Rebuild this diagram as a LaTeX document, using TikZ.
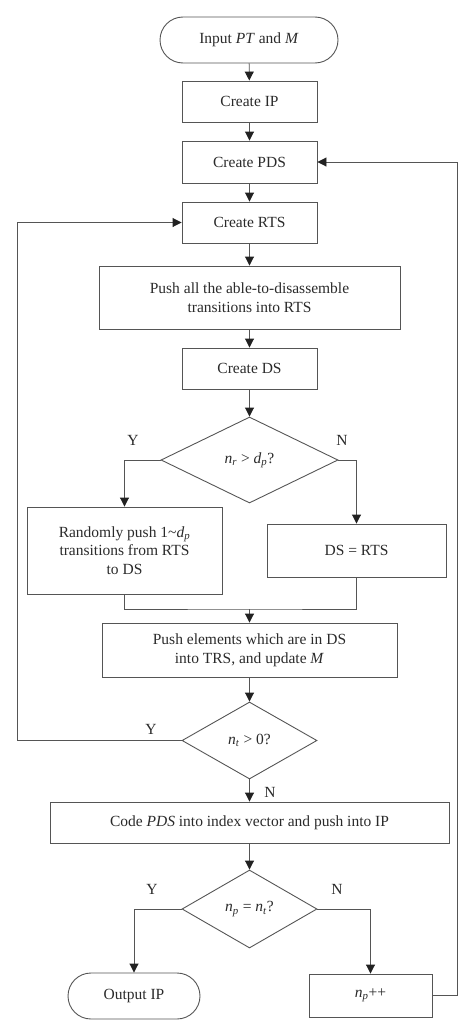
\documentclass[tikz,border=0pt]{standalone}
\usepackage{fontspec}
\setmainfont{Liberation Serif}
\usetikzlibrary{shapes.geometric,arrows.meta}
\definecolor{ln}{HTML}{555555}
\definecolor{tx}{HTML}{2A2A2A}
\definecolor{hd}{HTML}{222222}
\newcommand{\iv}[1]{\textit{#1}}
\newcommand{\sbx}[1]{\textsubscript{\textit{#1}}}
\tikzset{
  base/.style={draw=ln, line width=0.9pt, text=tx, font=\fontsize{15.5}{18.7}\selectfont, align=center, inner sep=2pt},
  procbox/.style={base, rectangle, minimum width=#1},
  termbox/.style={base, rectangle, rounded corners=23pt, minimum height=46pt},
  decbox/.style={base, diamond, inner sep=0pt},
  conn/.style={draw=ln, line width=0.9pt},
  arr/.style={conn, -{Triangle[length=9pt,width=9pt,color=hd]}},
  lbl/.style={text=tx, font=\fontsize{15.5}{17}\selectfont}
}
\begin{document}
\begin{tikzpicture}[x=1pt,y=-1pt]
\useasboundingbox (0,0) rectangle (474,1036);
\node[termbox, minimum width=178pt] (start) at (249,40) {Input \iv{PT} and \iv{M}};
\node[procbox=135pt, minimum height=41pt] (ip) at (249.5,101.5) {Create IP};
\node[procbox=135pt, minimum height=42pt] (pds) at (249.5,162) {Create PDS};
\node[procbox=135pt, minimum height=41pt] (rts) at (249.5,222.5) {Create RTS};
\node[procbox=301pt, minimum height=63pt] (push) at (249.5,297.5) {Push all the able-to-disassemble\\transitions into RTS};
\node[procbox=135pt, minimum height=41pt] (ds) at (249.5,368.5) {Create DS};
\node[decbox, minimum width=177pt, minimum height=86pt] (d1) at (249.5,460) {\iv{n}\sbx{r} > \iv{d}\sbx{p}?};
\node[procbox=195pt, minimum height=87pt] (rand) at (124.5,550.5) {Randomly push 1\textasciitilde\iv{d}\sbx{p}\\transitions from RTS\\to DS};
\node[procbox=179pt, minimum height=53pt] (eq) at (356.5,550.5) {DS = RTS};
\node[procbox=295pt, minimum height=54pt] (pushel) at (249.5,650) {Push elements which are in DS\\into TRS, and update \iv{M}};
\node[decbox, minimum width=135pt, minimum height=77pt] (d2) at (249.5,740.5) {\iv{n}\sbx{t} > 0?};
\node[procbox=399pt, minimum height=41pt] (code) at (249.5,822.5) {Code \iv{PDS} into index vector and push into IP};
\node[decbox, minimum width=135pt, minimum height=78pt] (d3) at (249.5,909) {\iv{n}\sbx{p} = \iv{n}\sbx{t}?};
\node[termbox, minimum width=132pt] (out) at (134,996) {Output IP};
\node[procbox=123pt, minimum height=43pt] (np) at (370.5,995.5) {\iv{n}\sbx{p}++};

\coordinate (lx) at (17,0);
\coordinate (rx) at (457,0);
\coordinate (m) at (249.5,609);

\draw[arr] (start) -- (ip);
\draw[arr] (ip) -- (pds);
\draw[arr] (pds) -- (rts);
\draw[arr] (rts) -- (push);
\draw[arr] (push) -- (ds);
\draw[arr] (ds) -- (d1);
\draw[arr] (d1.west) -| (rand.north);
\draw[arr] (d1.east) -| (eq.north);
\draw[conn] (rand.south) |- (m) -| (eq.south);
\draw[arr] (m) -- (pushel.north);
\draw[arr] (pushel) -- (d2);
\draw[arr] (d2.west) -- (d2.west -| lx) |- (rts.west);
\draw[arr] (d2) -- (code);
\draw[arr] (code) -- (d3);
\draw[arr] (d3.west) -| (out.north);
\draw[arr] (d3.east) -| (np.north);
\draw[arr] (np.east) -- (np.east -| rx) |- (pds.east);

\node[lbl] (y1) at (133,440) {Y};
\node[lbl] (n1) at (342,440) {N};
\node[lbl] (y2) at (151,729) {Y};
\node[lbl] (n2) at (270,792) {N};
\node[lbl] (y3) at (152,889) {Y};
\node[lbl] (n3) at (337,889) {N};
\end{tikzpicture}
\end{document}
